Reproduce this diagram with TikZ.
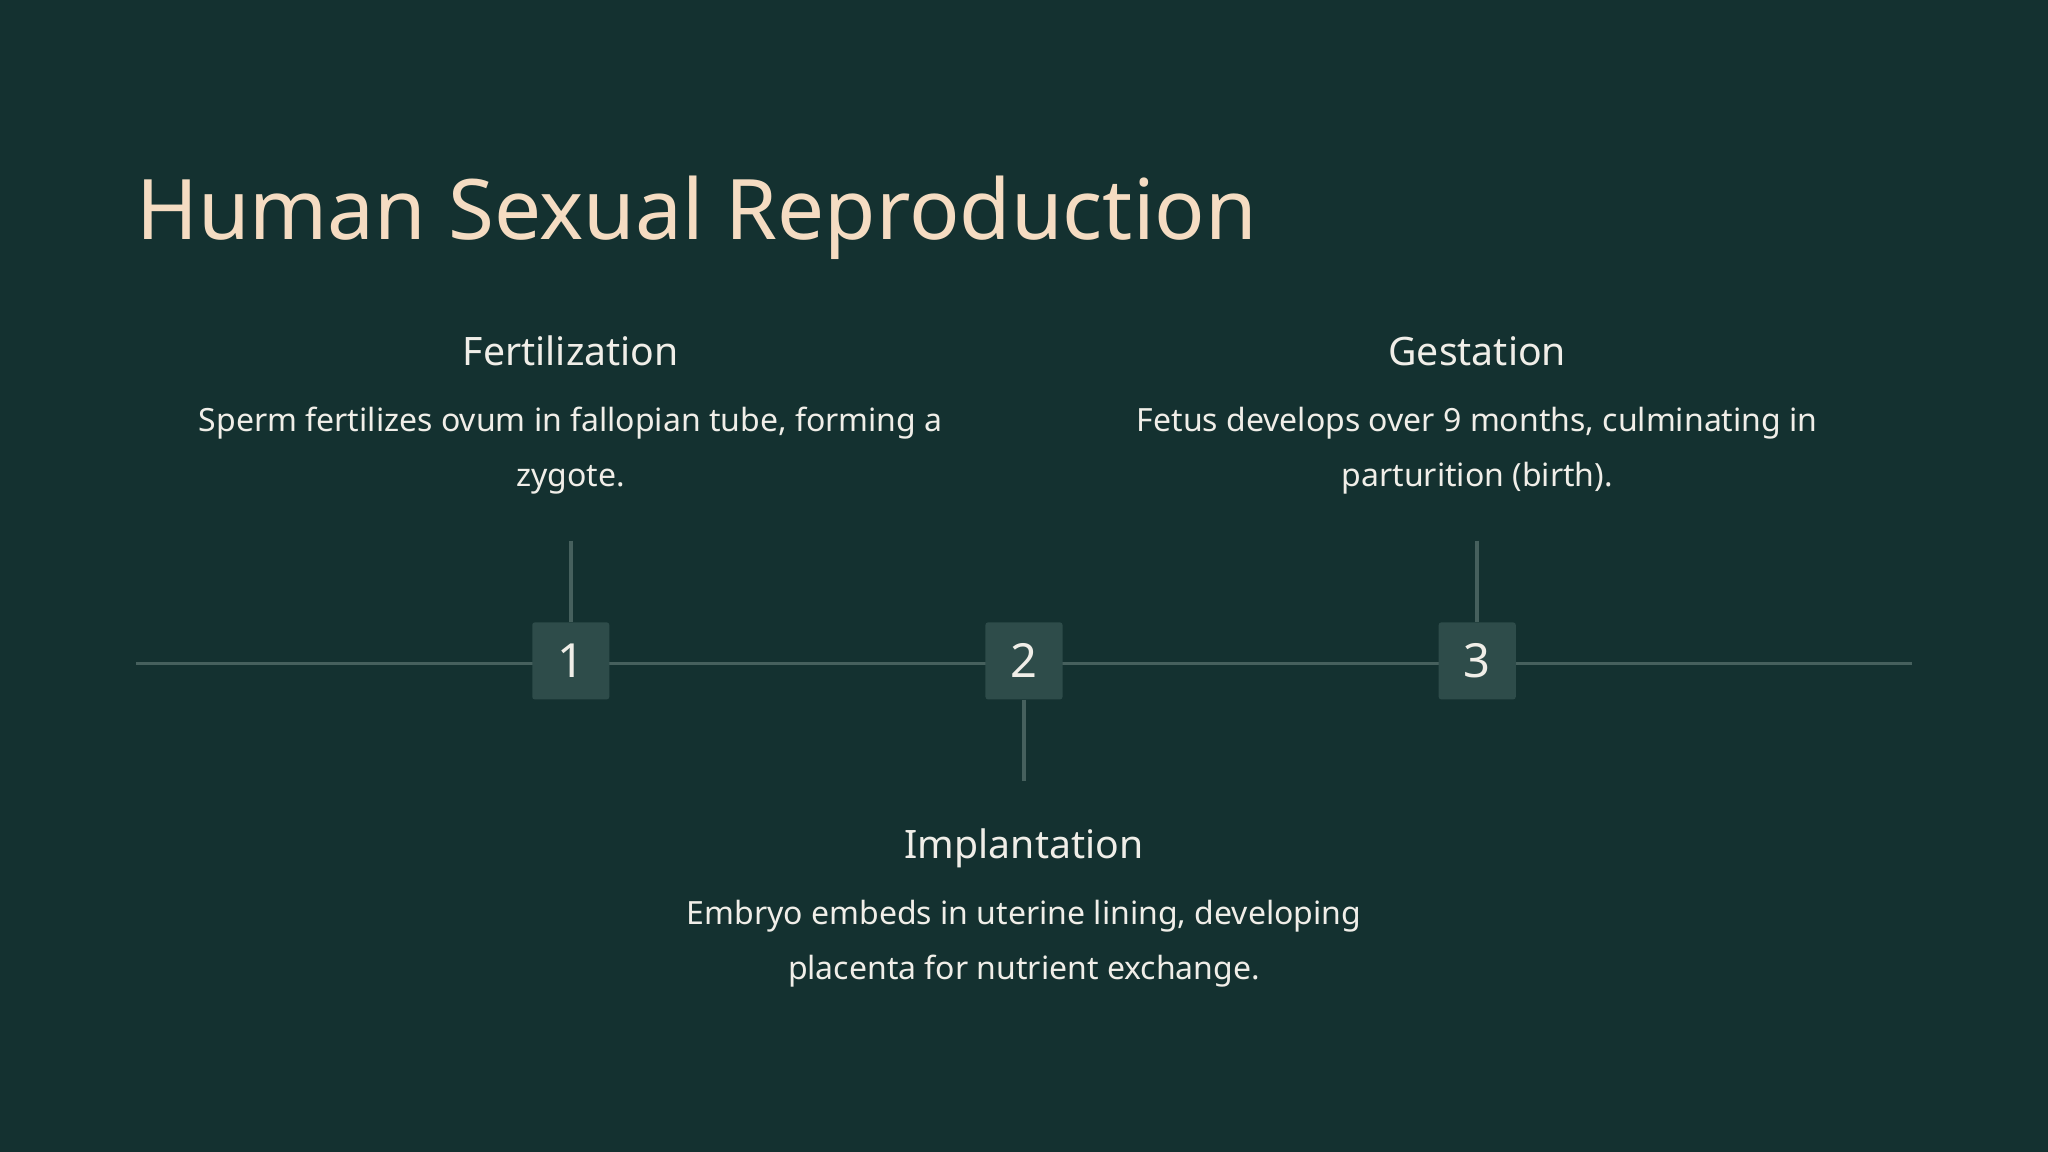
\documentclass[tikz,border=0pt]{standalone}
\usepackage{fontspec}
\setmainfont{Noto Sans}
\definecolor{bg}{HTML}{143130}
\definecolor{titlec}{HTML}{F5DCC2}
\definecolor{txt}{HTML}{F0EEE8}
\definecolor{linec}{HTML}{46605D}
\definecolor{boxc}{HTML}{2E4C4A}
\tikzset{
 heading/.style={text=txt,font=\fontsize{30}{36}\selectfont,anchor=base},
 body/.style={text=txt,font=\fontsize{24.5}{42}\selectfont,align=center,anchor=north},
 numbox/.style={fill=boxc,rounded corners=2pt,minimum width=59pt,minimum height=59pt,text=txt,font=\fontsize{36}{40}\selectfont,inner sep=0pt},
 tl/.style={draw=linec,line width=3pt}
}
\begin{document}
\begin{tikzpicture}[x=1pt,y=-1pt]
\fill[bg] (0,0) rectangle (1568,882);
\useasboundingbox (0,0) rectangle (1568,882);
\node[text=titlec,font=\fontsize{64}{70}\selectfont,anchor=base west,inner sep=0pt] (title) at (104,183) {Human Sexual Reproduction};
\coordinate (L) at (104,508); \coordinate (R) at (1464,508);
\draw[tl] (L) -- (R);
\node[numbox] (b1) at (437,506) {1};
\node[numbox] (b2) at (784,506) {2};
\node[numbox] (b3) at (1131,506) {3};
\coordinate (t1) at (437,414); \coordinate (t3) at (1131,414); \coordinate (t2) at (784,598);
\draw[tl] (t1) -- (b1.north);
\draw[tl] (t3) -- (b3.north);
\draw[tl] (b2.south) -- (t2);
\node[heading] (h1) at (437,280) {Fertilization};
\node[body] (d1) at (437,308) {Sperm fertilizes ovum in fallopian tube, forming a\\zygote.};
\node[heading] (h3) at (1131,280) {Gestation};
\node[body] (d3) at (1131,308) {Fetus develops over 9 months, culminating in\\parturition (birth).};
\node[heading] (h2) at (784,657) {Implantation};
\node[body] (d2) at (784,686) {Embryo embeds in uterine lining, developing\\placenta for nutrient exchange.};
\end{tikzpicture}
\end{document}
